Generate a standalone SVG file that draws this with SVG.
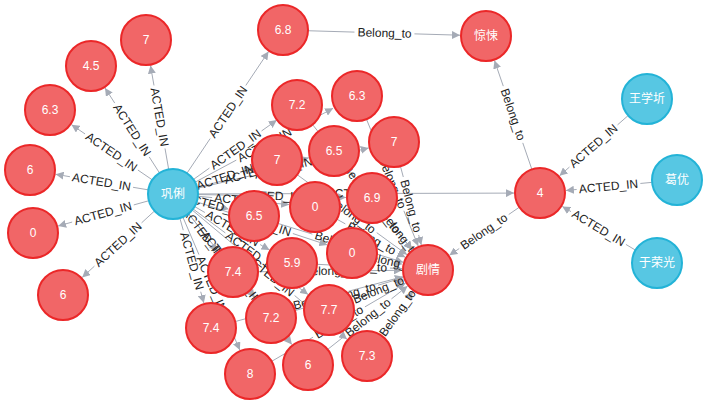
<svg xmlns="http://www.w3.org/2000/svg" width="707" height="403" viewBox="0 0 707 403">
<style>
.e{stroke:#A5ABB6;stroke-width:1;fill:none;marker-end:url(#arr)}
.l{font-family:"Liberation Sans","Noto Sans CJK SC",sans-serif;font-size:12px;fill:#222;text-anchor:middle;dominant-baseline:central}
.m circle{fill:#F16667;stroke:#EB2728;stroke-width:2}
.p circle{fill:#57C7E3;stroke:#23B3D7;stroke-width:2}
.n text{font-family:"Liberation Sans","Noto Sans CJK SC",sans-serif;font-size:12px;fill:#fff;text-anchor:middle;dominant-baseline:central}
</style>
<defs>
<marker id="arr" viewBox="0 0 10 10" refX="10" refY="5" markerWidth="8" markerHeight="8" markerUnits="userSpaceOnUse" orient="auto"><path d="M0,0 L10,5 L0,10 z" fill="#A5ABB6"/></marker>
</defs>
<rect width="707" height="403" fill="#fff"/>
<g id="edges">
<line class="e" x1="173" y1="194" x2="150.5" y2="65.6" stroke-dasharray="46.2 64 999"/>
<line class="e" x1="173" y1="194" x2="105" y2="87.9" stroke-dasharray="44 64 999"/>
<line class="e" x1="173" y1="194" x2="71.5" y2="124.7" stroke-dasharray="42.5 64 999"/>
<line class="e" x1="173" y1="194" x2="55.6" y2="174.3" stroke-dasharray="40.5 64 999"/>
<line class="e" x1="173" y1="194" x2="58.1" y2="226" stroke-dasharray="40.7 64 999"/>
<line class="e" x1="173" y1="194" x2="82.2" y2="277.4" stroke-dasharray="42.7 64 999"/>
<line class="e" x1="173" y1="194" x2="268.5" y2="51.6" stroke-dasharray="66.7 64 999"/>
<line class="e" x1="173" y1="194" x2="276.8" y2="120.1" stroke-dasharray="44.7 64 999"/>
<line class="e" x1="173" y1="194" x2="333.1" y2="108.3" stroke-dasharray="71.8 64 999"/>
<line class="e" x1="173" y1="194" x2="368.7" y2="148" stroke-dasharray="81.5 64 999"/>
<line class="e" x1="173" y1="194" x2="308.9" y2="157.7" stroke-dasharray="51.3 64 999"/>
<line class="e" x1="173" y1="194" x2="252.3" y2="168.1" stroke-dasharray="22.7 64 999"/>
<line class="e" x1="173" y1="194" x2="289.1" y2="204.6" stroke-dasharray="39.3 64 999"/>
<line class="e" x1="173" y1="194" x2="346" y2="197.5" stroke-dasharray="67.5 64 999"/>
<line class="e" x1="173" y1="194" x2="514" y2="193.1" stroke-dasharray="151.5 64 999"/>
<line class="e" x1="173" y1="194" x2="228.9" y2="209.2" stroke-dasharray="10 64 999"/>
<line class="e" x1="173" y1="194" x2="327.3" y2="244.9" stroke-dasharray="62.2 64 999"/>
<line class="e" x1="173" y1="194" x2="269.5" y2="250" stroke-dasharray="36.8 64 999"/>
<line class="e" x1="173" y1="194" x2="217.1" y2="251.4" stroke-dasharray="17.2 64 999"/>
<line class="e" x1="173" y1="194" x2="308.1" y2="294.5" stroke-dasharray="65.2 64 999"/>
<line class="e" x1="173" y1="194" x2="254.9" y2="297.6" stroke-dasharray="47 64 999"/>
<line class="e" x1="173" y1="194" x2="203.9" y2="303" stroke-dasharray="37.6 64 999"/>
<line class="e" x1="173" y1="194" x2="239.8" y2="350.1" stroke-dasharray="65.9 64 999"/>
<line class="e" x1="173" y1="194" x2="291.9" y2="344.6" stroke-dasharray="76.9 64 999"/>
<line class="e" x1="173" y1="194" x2="347" y2="339.3" stroke-dasharray="94.4 64 999"/>
<line class="e" x1="283" y1="30" x2="460" y2="35.2" stroke-dasharray="71.5 60 999"/>
<line class="e" x1="540" y1="193" x2="494.5" y2="60.6" stroke-dasharray="53 60 999"/>
<line class="e" x1="540" y1="193" x2="449.4" y2="255.3" stroke-dasharray="38 60 999"/>
<line class="e" x1="647" y1="99" x2="559.5" y2="175.8" stroke-dasharray="39.2 64 999"/>
<line class="e" x1="677" y1="180" x2="565.9" y2="190.5" stroke-dasharray="36.8 64 999"/>
<line class="e" x1="657" y1="263" x2="562.3" y2="206.4" stroke-dasharray="36.2 64 999"/>
<line class="e" x1="297" y1="105" x2="411.8" y2="249.6" stroke-dasharray="75.3 60 999"/>
<line class="e" x1="357" y1="96" x2="418.2" y2="245.9" stroke-dasharray="64 60 999"/>
<line class="e" x1="394" y1="142" x2="421.3" y2="244.9" stroke-dasharray="36.2 60 999"/>
<line class="e" x1="334" y1="151" x2="411.9" y2="249.6" stroke-dasharray="45.8 60 999"/>
<line class="e" x1="277" y1="160" x2="407" y2="254.7" stroke-dasharray="63.4 60 999"/>
<line class="e" x1="315" y1="207" x2="405.3" y2="257.3" stroke-dasharray="34.7 60 999"/>
<line class="e" x1="372" y1="198" x2="412" y2="249.5" stroke-dasharray="15.6 60 999"/>
<line class="e" x1="254" y1="216" x2="403.2" y2="262.3" stroke-dasharray="61.1 60 999"/>
<line class="e" x1="352" y1="253" x2="402.6" y2="264.3" stroke-dasharray="9 60 999"/>
<line class="e" x1="292" y1="263" x2="402" y2="268.7" stroke-dasharray="38.1 60 999"/>
<line class="e" x1="233" y1="272" x2="402" y2="270.3" stroke-dasharray="67.5 60 999"/>
<line class="e" x1="329" y1="310" x2="403.9" y2="279.7" stroke-dasharray="23.4 60 999"/>
<line class="e" x1="271" y1="318" x2="403.1" y2="277.6" stroke-dasharray="52.1 60 999"/>
<line class="e" x1="211" y1="328" x2="402.9" y2="276.7" stroke-dasharray="82.3 60 999"/>
<line class="e" x1="250" y1="374" x2="405.6" y2="283.1" stroke-dasharray="73.1 60 999"/>
<line class="e" x1="308" y1="365" x2="407.6" y2="286.1" stroke-dasharray="46.5 60 999"/>
<line class="e" x1="367" y1="356" x2="413" y2="291.2" stroke-dasharray="22.7 60 999"/>
</g>
<g id="edge-labels">
<text class="l" transform="translate(159.5,117) rotate(80.1)">ACTED_IN</text>
<text class="l" transform="translate(132,130) rotate(57.4)">ACTED_IN</text>
<text class="l" transform="translate(111.5,152) rotate(34.3)">ACTED_IN</text>
<text class="l" transform="translate(101.5,182) rotate(9.5)">ACTED_IN</text>
<text class="l" transform="translate(103,213.5) rotate(-15.6)">ACTED_IN</text>
<text class="l" transform="translate(118,244.5) rotate(-42.6)">ACTED_IN</text>
<text class="l" transform="translate(228,112) rotate(-56.1)">ACTED_IN</text>
<text class="l" transform="translate(235.5,149.5) rotate(-35.5)">ACTED_IN</text>
<text class="l" transform="translate(264.5,145) rotate(-28.2)">ACTED_IN</text>
<text class="l" transform="translate(283.5,168) rotate(-13.2)">ACTED_IN</text>
<text class="l" transform="translate(253.5,172.5) rotate(-15)">ACTED_IN</text>
<text class="l" transform="translate(225,177) rotate(-18.1)">ACTED_IN</text>
<text class="l" transform="translate(244,200.5) rotate(5.2)">ACTED_IN</text>
<text class="l" transform="translate(272.5,196) rotate(1.2)">ACTED_IN</text>
<text class="l" transform="translate(356.5,193.5) rotate(-0.2)">ACTED_IN</text>
<text class="l" transform="translate(213.5,205) rotate(15.2)">ACTED_IN</text>
<text class="l" transform="translate(262.5,223.5) rotate(18.2)">ACTED_IN</text>
<text class="l" transform="translate(232.5,228.5) rotate(30.1)">ACTED_IN</text>
<text class="l" transform="translate(203,233) rotate(52.4)">ACTED_IN</text>
<text class="l" transform="translate(251,252) rotate(36.6)">ACTED_IN</text>
<text class="l" transform="translate(222,256) rotate(51.7)">ACTED_IN</text>
<text class="l" transform="translate(192,261) rotate(74.2)">ACTED_IN</text>
<text class="l" transform="translate(211.5,284) rotate(66.8)">ACTED_IN</text>
<text class="l" transform="translate(240.5,279.5) rotate(51.7)">ACTED_IN</text>
<text class="l" transform="translate(270,275) rotate(39.9)">ACTED_IN</text>
<text class="l" transform="translate(384.5,33) rotate(1.7)">Belong_to</text>
<text class="l" transform="translate(513,114.5) rotate(71)">Belong_to</text>
<text class="l" transform="translate(484,231.5) rotate(-34.5)">Belong_to</text>
<text class="l" transform="translate(593.5,146) rotate(-41.3)">ACTED_IN</text>
<text class="l" transform="translate(608.5,186.5) rotate(-5.4)">ACTED_IN</text>
<text class="l" transform="translate(598.5,228) rotate(30.9)">ACTED_IN</text>
<text class="l" transform="translate(362.5,187.5) rotate(51.6)">Belong_to</text>
<text class="l" transform="translate(392.5,183) rotate(67.8)">Belong_to</text>
<text class="l" transform="translate(411,206) rotate(75.1)">Belong_to</text>
<text class="l" transform="translate(381,210.5) rotate(51.7)">Belong_to</text>
<text class="l" transform="translate(352.5,215) rotate(36.1)">Belong_to</text>
<text class="l" transform="translate(371.5,238.5) rotate(29.1)">Belong_to</text>
<text class="l" transform="translate(400,234) rotate(52.1)">Belong_to</text>
<text class="l" transform="translate(341,243) rotate(17.2)">Belong_to</text>
<text class="l" transform="translate(390,261.5) rotate(12.6)">Belong_to</text>
<text class="l" transform="translate(360,266.5) rotate(2.9)">Belong_to</text>
<text class="l" transform="translate(330.5,271) rotate(-0.6)">Belong_to</text>
<text class="l" transform="translate(378.5,290) rotate(-22)">Belong_to</text>
<text class="l" transform="translate(349.5,294) rotate(-17)">Belong_to</text>
<text class="l" transform="translate(319.5,299) rotate(-15)">Belong_to</text>
<text class="l" transform="translate(339,322) rotate(-30.3)">Belong_to</text>
<text class="l" transform="translate(368,317.5) rotate(-38.4)">Belong_to</text>
<text class="l" transform="translate(397.5,313) rotate(-54.7)">Belong_to</text>
</g>
<g id="node-gongli" class="n p"><circle cx="173" cy="194" r="25"/><text x="173" y="194">巩俐</text></g>
<g id="node-wangxueqi" class="n p"><circle cx="647" cy="99" r="25"/><text x="647" y="99">王学圻</text></g>
<g id="node-geyou" class="n p"><circle cx="677" cy="180" r="25"/><text x="677" y="180">葛优</text></g>
<g id="node-yurongguang" class="n p"><circle cx="657" cy="263" r="25"/><text x="657" y="263">于荣光</text></g>
<g id="node-jingsong" class="n m"><circle cx="486" cy="36" r="25"/><text x="486" y="36">惊悚</text></g>
<g id="node-juqing" class="n m"><circle cx="428" cy="270" r="25"/><text x="428" y="270">剧情</text></g>
<g id="node-m4" class="n m"><circle cx="540" cy="193" r="25"/><text x="540" y="193">4</text></g>
<g id="node-a" class="n m"><circle cx="146" cy="40" r="25"/><text x="146" y="40">7</text></g>
<g id="node-b" class="n m"><circle cx="91" cy="66" r="25"/><text x="91" y="66">4.5</text></g>
<g id="node-c" class="n m"><circle cx="50" cy="110" r="25"/><text x="50" y="110">6.3</text></g>
<g id="node-d" class="n m"><circle cx="30" cy="170" r="25"/><text x="30" y="170">6</text></g>
<g id="node-e" class="n m"><circle cx="33" cy="233" r="25"/><text x="33" y="233">0</text></g>
<g id="node-f" class="n m"><circle cx="63" cy="295" r="25"/><text x="63" y="295">6</text></g>
<g id="node-h" class="n m"><circle cx="283" cy="30" r="25"/><text x="283" y="30">6.8</text></g>
<g id="node-n1" class="n m"><circle cx="297" cy="105" r="25"/><text x="297" y="105">7.2</text></g>
<g id="node-n2" class="n m"><circle cx="357" cy="96" r="25"/><text x="357" y="96">6.3</text></g>
<g id="node-n3" class="n m"><circle cx="394" cy="142" r="25"/><text x="394" y="142">7</text></g>
<g id="node-n4" class="n m"><circle cx="334" cy="151" r="25"/><text x="334" y="151">6.5</text></g>
<g id="node-n5" class="n m"><circle cx="277" cy="160" r="25"/><text x="277" y="160">7</text></g>
<g id="node-n6" class="n m"><circle cx="315" cy="207" r="25"/><text x="315" y="207">0</text></g>
<g id="node-n7" class="n m"><circle cx="372" cy="198" r="25"/><text x="372" y="198">6.9</text></g>
<g id="node-n8" class="n m"><circle cx="254" cy="216" r="25"/><text x="254" y="216">6.5</text></g>
<g id="node-n9" class="n m"><circle cx="352" cy="253" r="25"/><text x="352" y="253">0</text></g>
<g id="node-n10" class="n m"><circle cx="292" cy="263" r="25"/><text x="292" y="263">5.9</text></g>
<g id="node-n11" class="n m"><circle cx="233" cy="272" r="25"/><text x="233" y="272">7.4</text></g>
<g id="node-n12" class="n m"><circle cx="329" cy="310" r="25"/><text x="329" y="310">7.7</text></g>
<g id="node-n13" class="n m"><circle cx="271" cy="318" r="25"/><text x="271" y="318">7.2</text></g>
<g id="node-n14" class="n m"><circle cx="211" cy="328" r="25"/><text x="211" y="328">7.4</text></g>
<g id="node-n15" class="n m"><circle cx="250" cy="374" r="25"/><text x="250" y="374">8</text></g>
<g id="node-n16" class="n m"><circle cx="308" cy="365" r="25"/><text x="308" y="365">6</text></g>
<g id="node-n17" class="n m"><circle cx="367" cy="356" r="25"/><text x="367" y="356">7.3</text></g>
</svg>
